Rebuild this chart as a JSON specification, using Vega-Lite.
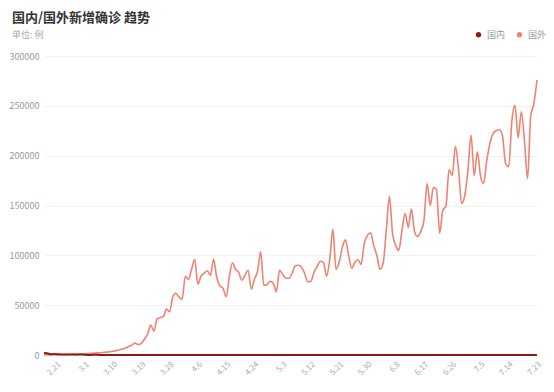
{
"$schema": "https://vega.github.io/schema/vega-lite/v6.json",
"autosize": "none",
"width": 493,
"height": 299,
"padding": {"left": 44, "top": 56, "right": 17, "bottom": 37},
"background": "white",
"config": {"font": "Noto Sans CJK SC", "view": {"stroke": null}},
"title": {"text": "国内/国外新增确诊 趋势", "subtitle": "单位: 例", "anchor": "start", "frame": "group", "dx": -32, "offset": -10, "fontSize": 13, "fontWeight": "bold", "color": "#333333", "subtitleFontSize": 9, "subtitleColor": "#aaaaaa", "subtitlePadding": 6},
"data": {"values": [
{"d":"2.17","国内":1886,"国外":150},{"d":"2.18","国内":1749,"国外":200},{"d":"2.19","国内":820,"国外":250},{"d":"2.20","国内":892,"国外":300},{"d":"2.21","国内":826,"国外":350},{"d":"2.22","国内":648,"国外":400},{"d":"2.23","国内":409,"国外":500},{"d":"2.24","国内":508,"国外":550},{"d":"2.25","国内":406,"国外":650},{"d":"2.26","国内":433,"国外":750},{"d":"2.27","国内":327,"国外":850},{"d":"2.28","国内":427,"国外":950},{"d":"2.29","国内":573,"国外":1100},
{"d":"3.1","国内":202,"国外":1300},{"d":"3.2","国内":125,"国外":1500},{"d":"3.3","国内":119,"国外":1700},{"d":"3.4","国内":139,"国外":1900},{"d":"3.5","国内":143,"国外":2100},{"d":"3.6","国内":99,"国外":2300},{"d":"3.7","国内":44,"国外":2600},{"d":"3.8","国内":40,"国外":2900},{"d":"3.9","国内":19,"国外":3300},{"d":"3.10","国内":24,"国外":3800},{"d":"3.11","国内":15,"国外":4400},{"d":"3.12","国内":8,"国外":5200},{"d":"3.13","国内":11,"国外":6000},{"d":"3.14","国内":20,"国外":7000},{"d":"3.15","国内":16,"国外":8500},{"d":"3.16","国内":21,"国外":10000},{"d":"3.17","国内":13,"国外":12000},{"d":"3.18","国内":34,"国外":10500},{"d":"3.19","国内":39,"国外":11500},{"d":"3.20","国内":41,"国外":16000},{"d":"3.21","国内":46,"国外":21000},{"d":"3.22","国内":39,"国外":30000},{"d":"3.23","国内":78,"国外":24000},{"d":"3.24","国内":47,"国外":36000},{"d":"3.25","国内":67,"国外":37500},{"d":"3.26","国内":55,"国外":38500},{"d":"3.27","国内":54,"国外":46000},{"d":"3.28","国内":45,"国外":43500},{"d":"3.29","国内":31,"国外":58000},{"d":"3.30","国内":48,"国外":62000},{"d":"3.31","国内":36,"国外":58000},
{"d":"4.1","国内":35,"国外":56000},{"d":"4.2","国内":31,"国外":79000},{"d":"4.3","国内":19,"国外":76000},{"d":"4.4","国内":30,"国外":86000},{"d":"4.5","国内":39,"国外":96000},{"d":"4.6","国内":32,"国外":71000},{"d":"4.7","国内":62,"国外":79000},{"d":"4.8","国内":63,"国外":82000},{"d":"4.9","国内":42,"国外":84500},{"d":"4.10","国内":46,"国外":80000},{"d":"4.11","国内":99,"国外":96000},{"d":"4.12","国内":108,"国外":78000},{"d":"4.13","国内":89,"国外":69500},{"d":"4.14","国内":46,"国外":67000},{"d":"4.15","国内":26,"国外":58500},{"d":"4.16","国内":27,"国外":78000},{"d":"4.17","国内":27,"国外":92500},{"d":"4.18","国内":16,"国外":86000},{"d":"4.19","国内":12,"国外":83000},{"d":"4.20","国内":11,"国外":75000},{"d":"4.21","国内":30,"国外":80000},{"d":"4.22","国内":10,"国外":85000},{"d":"4.23","国内":6,"国外":66000},{"d":"4.24","国内":12,"国外":76000},{"d":"4.25","国内":11,"国外":84000},{"d":"4.26","国内":3,"国外":103500},{"d":"4.27","国内":6,"国外":70000},{"d":"4.28","国内":22,"国外":70500},{"d":"4.29","国内":4,"国外":74000},{"d":"4.30","国内":12,"国外":72000},
{"d":"5.1","国内":1,"国外":63500},{"d":"5.2","国内":2,"国外":85000},{"d":"5.3","国内":3,"国外":81000},{"d":"5.4","国内":1,"国外":77000},{"d":"5.5","国内":2,"国外":77000},{"d":"5.6","国内":1,"国外":82000},{"d":"5.7","国内":2,"国外":89500},{"d":"5.8","国内":1,"国外":90000},{"d":"5.9","国内":14,"国外":88000},{"d":"5.10","国内":17,"国外":82000},{"d":"5.11","国内":1,"国外":73500},{"d":"5.12","国内":7,"国外":74000},{"d":"5.13","国内":3,"国外":83000},{"d":"5.14","国内":5,"国外":89000},{"d":"5.15","国内":4,"国外":94000},{"d":"5.16","国内":6,"国外":93000},{"d":"5.17","国内":5,"国外":79000},{"d":"5.18","国内":2,"国外":96000},{"d":"5.19","国内":4,"国外":126000},{"d":"5.20","国内":3,"国外":86000},{"d":"5.21","国内":11,"国外":93000},{"d":"5.22","国内":3,"国外":108000},{"d":"5.23","国内":3,"国外":115500},{"d":"5.24","国内":11,"国外":100000},{"d":"5.25","国内":2,"国外":87000},{"d":"5.26","国内":3,"国外":93000},{"d":"5.27","国内":1,"国外":95500},{"d":"5.28","国内":4,"国外":91000},{"d":"5.29","国内":4,"国外":112000},{"d":"5.30","国内":2,"国外":120000},{"d":"5.31","国内":5,"国外":122500},
{"d":"6.1","国内":5,"国外":110000},{"d":"6.2","国内":5,"国外":100000},{"d":"6.3","国内":3,"国外":86000},{"d":"6.4","国内":7,"国外":92000},{"d":"6.5","国内":5,"国外":125000},{"d":"6.6","国内":4,"国外":159000},{"d":"6.7","国内":3,"国外":122000},{"d":"6.8","国内":3,"国外":110000},{"d":"6.9","国内":5,"国外":105000},{"d":"6.10","国内":9,"国外":125000},{"d":"6.11","国内":11,"国外":142000},{"d":"6.12","国内":10,"国外":128000},{"d":"6.13","国内":12,"国外":146500},{"d":"6.14","国内":11,"国外":124000},{"d":"6.15","国内":6,"国外":119000},{"d":"6.16","国内":14,"国外":124000},{"d":"6.17","国内":31,"国外":135000},{"d":"6.18","国内":12,"国外":172000},{"d":"6.19","国内":29,"国外":150000},{"d":"6.20","国内":27,"国外":168000},{"d":"6.21","国内":19,"国外":166000},{"d":"6.22","国内":21,"国外":122000},{"d":"6.23","国内":12,"国外":145000},{"d":"6.24","国内":25,"国外":149500},{"d":"6.25","国内":11,"国外":186000},{"d":"6.26","国内":19,"国外":180000},{"d":"6.27","国内":20,"国外":209500},{"d":"6.28","国内":12,"国外":187000},{"d":"6.29","国内":17,"国外":152000},{"d":"6.30","国内":7,"国外":160000},
{"d":"7.1","国内":3,"国外":185000},{"d":"7.2","国内":4,"国外":220500},{"d":"7.3","国内":5,"国外":180000},{"d":"7.4","国内":4,"国外":204000},{"d":"7.5","国内":6,"国外":180000},{"d":"7.6","国内":5,"国外":172000},{"d":"7.7","国内":7,"国外":195000},{"d":"7.8","国内":7,"国外":212000},{"d":"7.9","国内":3,"国外":222000},{"d":"7.10","国内":8,"国外":225000},{"d":"7.11","国内":2,"国外":226000},{"d":"7.12","国内":7,"国外":220000},{"d":"7.13","国内":12,"国外":192000},{"d":"7.14","国内":14,"国外":189000},{"d":"7.15","国内":7,"国外":235000},{"d":"7.16","国内":9,"国外":250500},{"d":"7.17","国内":16,"国外":218000},{"d":"7.18","国内":22,"国外":244000},{"d":"7.19","国内":11,"国外":215000},{"d":"7.20","国内":13,"国外":177000},{"d":"7.21","国内":14,"国外":240000},{"d":"7.22","国内":21,"国外":252000},{"d":"7.23","国内":23,"国外":276000}
]},
"encoding": {
  "x": {"field": "d", "type": "ordinal", "sort": null, "scale": {"type": "point", "padding": 0},
        "axis": {"title": null, "values": ["2.21","3.1","3.10","3.19","3.28","4.6","4.15","4.24","5.3","5.12","5.21","5.30","6.8","6.17","6.26","7.5","7.14","7.23"], "labelAngle": -45, "labelColor": "#aaaaaa", "labelFontSize": 8, "ticks": false, "domain": false, "grid": false, "labelPadding": 5}}
},
"layer": [
  {"mark": {"type": "line", "interpolate": "monotone", "strokeWidth": 1.6},
   "encoding": {
     "y": {"field": "国外", "type": "quantitative", "scale": {"domain": [0, 300000], "nice": false},
           "axis": {"title": null, "values": [0,50000,100000,150000,200000,250000,300000], "format": "d", "labelColor": "#999999", "labelFontSize": 9, "domain": false, "ticks": false, "gridColor": "#f2f2f2", "labelPadding": 5}},
     "color": {"datum": "国外", "scale": {"domain": ["国内", "国外"], "range": ["#8c1c13", "#f08272"]},
               "legend": {"title": null, "orient": "none", "legendX": 430, "legendY": -26, "direction": "horizontal", "symbolType": "circle", "symbolSize": 28, "symbolStrokeWidth": 0, "labelFontSize": 9, "labelColor": "#999999", "columnPadding": 9, "labelOffset": 4,
                          "encode": {"symbols": {"update": {"fill": {"scale": "color", "field": "value"}}}}}}
   }},
  {"mark": {"type": "line", "interpolate": "monotone", "strokeWidth": 2},
   "encoding": {
     "y": {"field": "国内", "type": "quantitative",
           "axis": {"title": null, "values": [0,50000,100000,150000,200000,250000,300000], "format": "d", "labelColor": "#999999", "labelFontSize": 9, "domain": false, "ticks": false, "gridColor": "#f2f2f2", "labelPadding": 5}},
     "color": {"datum": "国内"}
   }}
]
}
